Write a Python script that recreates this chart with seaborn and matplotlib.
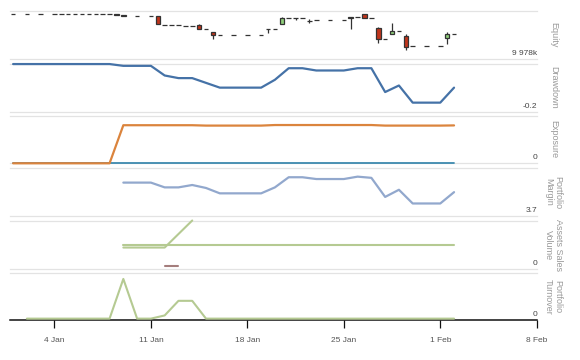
import numpy as np
import pandas as pd
import matplotlib
matplotlib.use('Agg')
import matplotlib.pyplot as plt
import seaborn as sns

sns.set_style('white')
plt.rcParams['font.family'] = ['Liberation Sans', 'DejaVu Sans']

nan = np.nan
start = pd.Timestamp('2021-01-01')
days = pd.date_range(start, periods=33, freq='D')

# equity candles (k), day offset from 1 Jan
eq_day = [0, 1, 2, 3, 3.5, 4, 4.5, 5, 5.5, 6, 6.5, 7, 7.5, 8, 9, 10, 10.5, 11, 11.5, 12,
          12.5, 13, 13.5, 14, 14.5, 15, 16, 17, 18, 18.5, 19, 19.5, 20, 20.5, 21, 21.5,
          22, 23, 24, 24.5, 25, 25.5, 26, 26.5, 27, 27.5, 28, 28.5, 29, 30, 31, 31.5, 32]
eq_open = [10003.8, 10003.8, 10003.8, 10003.8, 10003.8, 10003.8, 10003.8, 10003.8, 10003.8,
           10003.8, 10003.8, 10003.8, 10003.8, 10003.2, 10002.7, 10002.7, 10002.7, 9997.4,
           9997.4, 9997.4, 9996.7, 9996.6, 9997.0, 9994.5, 9992.7, 9990.8, 9990.8, 9990.8,
           9990.8, 9994.5, 9994.5, 9997.6, 10001.3, 10001.6, 10001.3, 9999.8, 10000.1,
           10000.1, 10000.1, 10001.3, 10001.9, 10003.8, 10001.3, 9995.1, 9988.3, 9991.4,
           9993.3, 9990.4, 9984.0, 9984.0, 9984.0, 9989.0, 9991.4]
eq_close = [10003.8, 10003.8, 10003.8, 10003.8, 10003.8, 10003.8, 10003.8, 10003.8, 10003.8,
            10003.8, 10003.8, 10003.8, 10003.2, 10002.7, 10002.7, 10002.7, 9997.6, 9997.4,
            9997.4, 9997.4, 9996.7, 9996.6, 9994.5, 9994.5, 9990.8, 9990.8, 9990.8, 9990.8,
            9990.8, 9994.9, 9994.5, 10001.3, 10001.3, 10001.8, 10001.3, 9999.8, 10000.1,
            10000.1, 10000.1, 10001.9, 10001.9, 10001.3, 10001.3, 9988.3, 9988.3, 9993.3,
            9993.3, 9983.8, 9984.0, 9984.0, 9984.0, 9991.4, 9991.4]
eq_high = [10003.8, 10003.8, 10003.8, 10003.8, 10003.8, 10003.8, 10003.8, 10003.8, 10003.8,
           10003.8, 10003.8, 10003.8, 10003.8, 10003.2, 10002.7, 10002.7, 10002.7, 9997.4,
           9997.4, 9997.4, 9996.7, 9996.6, 9997.8, 9994.5, 9992.7, 9990.8, 9990.8, 9990.8,
           9990.8, 9994.9, 9994.5, 10001.9, 10001.3, 10001.8, 10001.3, 10001.1, 10000.1,
           10000.1, 10000.1, 10001.9, 10001.9, 10003.8, 10001.3, 9995.8, 9988.3, 9998.2,
           9993.3, 9991.6, 9984.0, 9984.0, 9984.0, 9992.7, 9991.4]
eq_low = [10003.8, 10003.8, 10003.8, 10003.8, 10003.8, 10003.8, 10003.8, 10003.8, 10003.8,
          10003.8, 10003.8, 10003.8, 10003.2, 10002.7, 10002.7, 10002.7, 9997.6, 9997.4,
          9997.4, 9997.4, 9996.7, 9996.6, 9994.5, 9994.5, 9988.7, 9990.8, 9990.8, 9990.8,
          9990.8, 9992.4, 9994.5, 9997.6, 10001.3, 10000.4, 10001.3, 9998.6, 10000.1,
          10000.1, 10000.1, 9994.9, 10001.9, 10001.3, 10001.3, 9986.2, 9988.3, 9991.4,
          9993.3, 9981.7, 9984.0, 9984.0, 9984.0, 9985.4, 9991.4]

drawdown = [0, 0, 0, 0, 0, 0, 0, 0, -0.0075, -0.0075, -0.0075, -0.048, -0.059, -0.059,
            -0.079, -0.099, -0.099, -0.099, -0.099, -0.066, -0.0175, -0.0175, -0.027,
            -0.027, -0.027, -0.0175, -0.0175, -0.1175, -0.09, -0.162, -0.162, -0.162, -0.099]

exposure = [0, 0, 0, 0, 0, 0, 0, 0, 1.0, 1.0, 1.0, 1.0, 1.0, 1.0, 0.99, 0.99, 0.99, 0.99,
            0.99, 1.005, 1.005, 1.005, 1.005, 1.005, 1.005, 1.005, 1.005, 0.99, 0.99, 0.99,
            0.99, 0.99, 0.995]
exposure_short = [0, 0, 0, 0, 0, 0, 0, 0, 0, 0, 0, 0, 0, 0, 0, 0, 0, 0, 0, 0, 0, 0, 0, 0,
                  0, 0, 0, 0, 0, 0, 0, 0, 0]

margin = [nan, nan, nan, nan, nan, nan, nan, nan, 4.26, 4.26, 4.26, 4.18, 4.18, 4.22, 4.17,
          4.08, 4.08, 4.08, 4.08, 4.18, 4.35, 4.35, 4.32, 4.32, 4.32, 4.36, 4.34, 4.02, 4.14,
          3.91, 3.91, 3.91, 4.10]

sales_a = [nan, nan, nan, nan, nan, nan, nan, nan, 1.0, 1.0, 1.0, 1.0, 1.0, 1.0, 1.0, 1.0,
           1.0, 1.0, 1.0, 1.0, 1.0, 1.0, 1.0, 1.0, 1.0, 1.0, 1.0, 1.0, 1.0, 1.0, 1.0, 1.0, 1.0]
sales_b = [nan, nan, nan, nan, nan, nan, nan, nan, 0.88, 0.88, 0.88, 0.88, 1.44, 2.0, nan,
           nan, nan, nan, nan, nan, nan, nan, nan, nan, nan, nan, nan, nan, nan, nan, nan,
           nan, nan]
sales_c = [nan, nan, nan, nan, nan, nan, nan, nan, nan, nan, nan, 0.11, 0.11, nan, nan, nan,
           nan, nan, nan, nan, nan, nan, nan, nan, nan, nan, nan, nan, nan, nan, nan, nan, nan]

turnover = [nan, 0, 0, 0, 0, 0, 0, 0, 0.87, 0, 0, 0.07, 0.39, 0.39, 0, 0, 0, 0, 0, 0, 0, 0,
            0, 0, 0, 0, 0, 0, 0, 0, 0, 0, 0]

panel_names = ['Equity', 'Drawdown', 'Exposure', 'Portfolio\nMargin',
               'Assets Sales\nVolume', 'Portfolio\nTurnover']
bottom_labels = ['9 978k', '-0.2', '0', '3.7', '0', '0']
tick_days = ['2021-01-04', '2021-01-11', '2021-01-18', '2021-01-25', '2021-02-01', '2021-02-08']
tick_text = ['4 Jan', '11 Jan', '18 Jan', '25 Jan', '1 Feb', '8 Feb']

fig = plt.figure(figsize=(5.8, 3.6), dpi=100)
W, H = 580, 360
tops = [10.7, 63.7, 115.7, 168.3, 220.5, 273]
bots = [59.3, 111.7, 163.3, 216, 268.8, 320]
xl, xr = 10, 537
axes = []
for t, b in zip(tops, bots):
    ax = fig.add_axes([xl / W, 1 - b / H, (xr - xl) / W, (b - t) / H])
    axes.append(ax)

xmin = start - pd.Timedelta(hours=5.4)
xmax = start + pd.Timedelta(days=38.02)

# equity candles
ax = axes[0]
eq_x = [start + pd.Timedelta(days=d) for d in eq_day]
body_col = []
for o, c in zip(eq_open, eq_close):
    if c < o:
        body_col.append('#c0351c')
    elif c > o:
        body_col.append('#8fcf7a')
    else:
        body_col.append('#333333')
ax.vlines(eq_x, eq_low, eq_high, color='#333333', lw=0.9, zorder=2)
ax.bar(eq_x, np.array(eq_close) - np.array(eq_open), bottom=eq_open, width=0.33,
       color=body_col, edgecolor='#333333', linewidth=0.9, zorder=3)
ax.set_ylim(9976, 10006)

ax = axes[1]
sns.lineplot(x=days, y=drawdown, ax=ax, color='#4572A7', lw=1.6, estimator=None)
ax.set_ylim(-0.2, 0.0015)

ax = axes[2]
sns.lineplot(x=days, y=exposure_short, ax=ax, color='#3D8AAE', lw=1.3, estimator=None)
sns.lineplot(x=days, y=exposure, ax=ax, color='#DB843D', lw=1.6, estimator=None)
ax.set_ylim(0, 1.25)

ax = axes[3]
sns.lineplot(x=days, y=margin, ax=ax, color='#92A8CD', lw=1.6, estimator=None)
ax.set_ylim(3.7, 4.5)

ax = axes[4]
sns.lineplot(x=days, y=sales_a, ax=ax, color='#B5CA92', lw=1.5, estimator=None)
sns.lineplot(x=days, y=sales_b, ax=ax, color='#B5CA92', lw=1.5, estimator=None)
sns.lineplot(x=days, y=sales_c, ax=ax, color='#A47D7C', lw=1.5, estimator=None)
ax.set_ylim(0, 2.0)

ax = axes[5]
sns.lineplot(x=days, y=turnover, ax=ax, color='#B5CA92', lw=1.5, estimator=None)
ax.set_ylim(-0.03, 1.0)

for i, ax in enumerate(axes):
    ax.set_xlim(xmin, xmax)
    for ln in ax.get_lines():
        ln.set_clip_on(False)
        ln.set_zorder(3)
    ax.set_ylabel('')
    ax.set_xlabel('')
    ax.set_yticks([])
    for s in ['left', 'right']:
        ax.spines[s].set_visible(False)
    ax.spines['top'].set_color('#e3e3e3')
    ax.spines['bottom'].set_color('#e3e3e3')
    ax.spines['top'].set_linewidth(0.9)
    ax.spines['bottom'].set_linewidth(0.9)
    ax.text(1.0, 0.04, bottom_labels[i], transform=ax.transAxes, ha='right', va='bottom',
            fontsize=6, color='#444444')
    ax.text(1.031, 0.5, panel_names[i], transform=ax.transAxes, rotation=270,
            ha='center', va='center', multialignment='center', fontsize=6.5,
            color='#999999', linespacing=1.1)
    if i < 5:
        ax.set_xticks([])

ax = axes[5]
ax.spines['bottom'].set_color('#111111')
ax.spines['bottom'].set_linewidth(1.1)
ax.set_xticks(pd.to_datetime(tick_days))
ax.set_xticklabels(tick_text)
ax.tick_params(axis='x', direction='out', length=6, width=0.9, color='#111111',
               labelsize=6, labelcolor='#555555', pad=6.5, bottom=True)

fig.savefig('out.png', dpi=100)
